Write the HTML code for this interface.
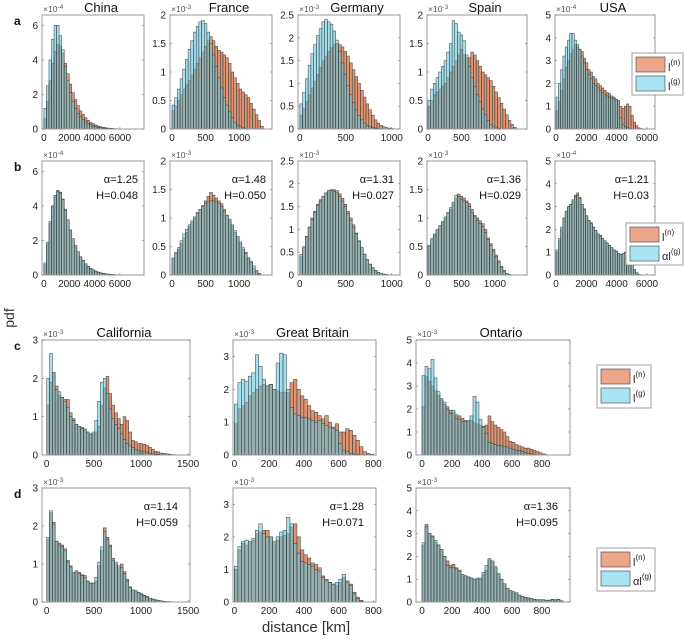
<!DOCTYPE html>
<html><head><meta charset="utf-8"><style>
body{margin:0;background:#fff;width:685px;height:637px;overflow:hidden;font-family:"Liberation Sans",sans-serif}
svg text{font-family:"Liberation Sans",sans-serif}
</style></head><body>
<svg id="fig" width="685" height="637" xmlns="http://www.w3.org/2000/svg"></svg>
<script>
// ---- data (pdf values in units of the axis exponent) ----
const chinaA_n=[0.6,1.6,2.8,3.8,4.5,4.9,4.8,4.4,3.8,3.2,2.6,2.1,1.7,1.35,1.05,0.85,0.65,0.5,0.38,0.3,0.23,0.17,0.13,0.1,0.07,0.05,0.04,0.03,0.02,0.015,0.01,0.005,0,0,0];
const chinaA_g=[1.2,2.5,4.0,5.2,6.0,6.0,5.4,4.6,3.6,2.8,2.1,1.6,1.2,0.9,0.7,0.55,0.42,0.32,0.24,0.18,0.13,0.1,0.07,0.05,0.04,0.03,0.02,0.015,0.01,0.01,0.005,0.005,0,0,0];
const chinaB_n=[0.6,1.8,3.0,4.0,4.6,4.9,4.8,4.4,3.8,3.2,2.6,2.1,1.7,1.35,1.05,0.85,0.65,0.5,0.38,0.3,0.23,0.17,0.13,0.1,0.07,0.05,0.04,0.03,0.02,0.015,0.01,0.005,0,0,0];
const chinaB_g=[0.7,1.9,3.1,4.0,4.6,4.85,4.75,4.35,3.75,3.2,2.6,2.1,1.7,1.35,1.05,0.85,0.65,0.5,0.38,0.3,0.22,0.16,0.12,0.09,0.06,0.05,0.03,0.02,0.015,0.01,0.005,0,0,0,0];
const franceA_n=[0.32,0.4,0.5,0.6,0.7,0.78,0.85,0.95,1.05,1.15,1.25,1.35,1.45,1.55,1.62,1.55,1.45,1.38,1.35,1.3,1.25,1.15,1.0,0.9,0.8,0.7,0.65,0.6,0.55,0.45,0.35,0.25,0.15,0.05,0];
const franceA_g=[0.42,0.55,0.7,0.88,1.05,1.22,1.4,1.55,1.7,1.8,1.88,1.9,1.85,1.7,1.5,1.3,1.1,0.9,0.72,0.55,0.42,0.3,0.2,0.12,0.07,0.04,0.02,0.01,0,0,0,0,0,0,0];
const franceB_n=[0.28,0.38,0.45,0.55,0.65,0.75,0.85,0.92,1.0,1.08,1.15,1.22,1.3,1.38,1.45,1.4,1.35,1.3,1.25,1.15,1.05,0.95,0.85,0.75,0.65,0.55,0.45,0.4,0.3,0.22,0.12,0.06,0.02,0,0];
const franceB_g=[0.3,0.4,0.48,0.6,0.72,0.8,0.88,0.95,1.02,1.1,1.15,1.2,1.25,1.28,1.3,1.3,1.28,1.25,1.2,1.12,1.05,0.98,0.88,0.78,0.68,0.58,0.48,0.38,0.3,0.24,0.16,0.08,0.03,0,0];
const germanyA_n=[0.3,0.45,0.6,0.75,0.9,1.05,1.2,1.35,1.5,1.6,1.7,1.78,1.85,1.88,1.85,1.8,1.7,1.6,1.45,1.3,1.15,1.0,0.85,0.7,0.55,0.42,0.3,0.2,0.13,0.08,0.05,0.03,0.02,0.01,0];
const germanyA_g=[0.55,0.8,1.1,1.4,1.65,1.85,2.05,2.2,2.35,2.4,2.35,2.3,2.15,1.95,1.7,1.45,1.2,0.95,0.75,0.58,0.42,0.3,0.2,0.13,0.08,0.05,0.03,0.02,0.01,0,0,0,0,0,0];
const germanyB_n=[0.4,0.6,0.85,1.05,1.25,1.4,1.55,1.65,1.72,1.8,1.85,1.87,1.87,1.85,1.78,1.68,1.55,1.4,1.25,1.1,0.92,0.75,0.6,0.45,0.33,0.23,0.15,0.1,0.06,0.03,0.02,0.01,0,0,0];
const germanyB_g=[0.45,0.62,0.85,1.05,1.22,1.38,1.52,1.62,1.72,1.8,1.85,1.85,1.84,1.8,1.72,1.62,1.5,1.35,1.2,1.05,0.9,0.74,0.6,0.46,0.34,0.24,0.16,0.1,0.06,0.03,0.02,0.01,0,0,0];
const spainA_n=[0.4,0.5,0.6,0.65,0.7,0.75,0.8,0.9,1.0,1.1,1.2,1.3,1.4,1.3,1.25,1.25,1.35,1.3,1.2,1.1,1.0,0.95,0.9,0.85,0.75,0.65,0.55,0.45,0.35,0.25,0.15,0.08,0.03,0,0];
const spainA_g=[0.5,0.7,0.8,0.9,1.0,1.1,1.2,1.35,1.5,1.9,1.85,1.7,1.65,1.55,1.3,1.1,0.9,0.75,0.6,0.48,0.35,0.25,0.15,0.08,0.04,0.02,0.01,0,0,0,0,0,0,0,0];
const spainB_n=[0.5,0.62,0.7,0.78,0.85,0.92,1.0,1.08,1.15,1.25,1.35,1.42,1.38,1.35,1.3,1.25,1.15,1.05,1.0,0.95,0.9,0.8,0.65,0.55,0.45,0.35,0.25,0.15,0.08,0.03,0.01,0,0,0,0];
const spainB_g=[0.52,0.64,0.72,0.8,0.87,0.94,1.02,1.1,1.18,1.28,1.4,1.38,1.32,1.3,1.27,1.2,1.1,1.02,0.96,0.9,0.85,0.75,0.62,0.52,0.42,0.32,0.22,0.14,0.07,0.03,0.01,0,0,0,0];
const usaA_n=[0.8,1.2,1.7,2.2,2.7,3.0,3.3,3.5,3.7,3.6,3.5,3.4,3.1,2.9,2.6,2.5,2.3,2.2,2.0,1.9,1.8,1.7,1.6,1.55,1.45,1.4,1.3,1.2,1.0,0.9,1.0,1.1,1.0,0.6,0.3,0.15,0.05,0.02,0,0];
const usaA_g=[1.4,2.0,2.6,3.2,3.6,3.9,4.2,4.2,3.9,3.7,3.5,3.2,2.9,2.6,2.4,2.2,2.0,1.9,1.8,1.7,1.6,1.5,1.45,1.4,1.35,1.35,1.3,1.25,0.5,0.2,0.1,0.05,0.02,0,0,0,0,0,0,0];
const usaB_n=[1.0,1.5,2.0,2.5,2.8,3.0,3.1,3.3,3.5,3.6,3.4,3.1,2.9,2.6,2.4,2.3,2.1,1.95,1.8,1.75,1.6,1.5,1.4,1.3,1.2,1.1,1.05,0.95,0.9,0.9,1.0,1.05,0.85,0.5,0.2,0.08,0.03,0,0,0];
const usaB_g=[1.1,1.6,2.1,2.5,2.8,3.0,3.1,3.3,3.45,3.5,3.35,3.1,2.85,2.6,2.4,2.25,2.1,1.95,1.8,1.7,1.6,1.5,1.4,1.3,1.2,1.1,1.05,0.95,0.9,0.95,1.0,1.05,0.9,0.55,0.25,0.1,0.03,0,0,0];
const caliC_n=[1.3,1.9,2.15,1.8,1.55,1.5,1.45,1.45,1.1,0.95,0.8,0.75,0.72,0.68,0.6,0.55,0.55,0.6,0.75,1.3,1.75,2.05,1.6,1.3,1.1,0.95,0.8,1.0,0.9,0.6,0.38,0.35,0.3,0.3,0.28,0.25,0.2,0.15,0.1,0.08,0.05,0.04,0.03,0.02,0.01,0.01,0.005,0,0,0];
const caliC_g=[2.0,2.65,2.15,1.7,1.65,1.5,1.4,1.25,1.0,0.9,0.8,0.75,0.7,0.65,0.6,0.55,0.6,0.9,1.4,1.9,2.0,1.6,1.2,0.95,0.8,0.7,0.55,0.4,0.3,0.25,0.2,0.15,0.12,0.1,0.08,0.06,0.04,0.03,0.02,0.02,0.01,0.01,0,0,0,0,0,0,0,0];
const caliD_n=[1.65,2.35,2.1,1.6,1.55,1.5,1.4,1.1,0.95,0.75,0.8,0.78,0.72,0.7,0.55,0.5,0.48,0.55,0.95,1.35,1.95,1.7,1.5,1.15,1.0,0.9,1.0,0.8,0.6,0.4,0.3,0.28,0.25,0.22,0.18,0.15,0.1,0.08,0.06,0.04,0.03,0.02,0.01,0.01,0,0,0,0,0,0];
const caliD_g=[1.7,2.4,2.05,1.6,1.5,1.45,1.35,1.05,0.92,0.78,0.82,0.75,0.7,0.65,0.55,0.5,0.5,0.65,1.05,1.45,1.85,1.65,1.45,1.1,1.05,0.95,0.9,0.75,0.55,0.38,0.32,0.3,0.25,0.2,0.16,0.12,0.1,0.07,0.05,0.04,0.03,0.02,0.01,0.01,0,0,0,0,0,0];
const gbC_n=[0.95,1.4,1.5,1.6,1.8,1.9,2.0,2.1,2.15,2.1,2.15,2.0,1.95,1.9,1.9,1.9,2.2,2.3,2.0,1.8,1.7,1.5,1.35,1.3,1.2,1.1,1.2,1.0,0.85,0.95,0.7,0.7,0.8,0.75,0.6,0.45,0.25,0.1,0.05,0.02,0,0,0];
const gbC_g=[1.55,2.2,2.3,2.25,2.4,2.5,3.05,2.7,2.3,2.1,2.15,2.0,2.8,3.1,3.05,2.0,1.45,1.25,1.2,1.15,1.15,1.1,1.05,1.0,1.05,0.95,0.9,0.85,0.8,0.75,0.35,0.15,0.1,0.05,0.03,0.02,0.01,0,0,0,0,0,0];
const gbD_n=[1.0,1.6,1.8,1.75,1.85,1.9,2.1,2.15,2.2,2.2,2.0,1.85,1.9,2.0,2.05,2.1,2.3,2.4,2.0,1.6,1.45,1.35,1.2,1.15,1.05,0.8,0.7,0.6,0.55,0.5,0.6,0.75,0.65,0.55,0.3,0.15,0.05,0,0,0,0,0,0];
const gbD_g=[1.1,1.7,1.85,1.9,1.85,1.95,2.2,2.4,2.1,2.0,2.0,1.85,2.0,2.15,2.2,2.6,2.4,1.8,1.5,1.25,1.2,1.15,1.1,1.0,0.95,0.75,0.65,0.6,0.55,0.6,0.7,0.85,0.6,0.5,0.25,0.1,0.03,0,0,0,0,0,0];
const ontC_n=[2.1,3.4,3.2,3.0,2.8,2.6,2.4,2.2,2.1,1.95,1.85,1.75,1.7,1.6,1.5,1.45,1.5,1.4,1.35,1.3,1.25,1.3,1.7,1.45,1.3,1.2,1.1,1.0,0.8,0.6,0.55,0.45,0.4,0.35,0.3,0.3,0.25,0.2,0.15,0.1,0.05,0.02,0.01,0,0,0,0,0];
const ontC_g=[3.45,3.85,3.75,4.15,3.35,2.75,2.45,2.3,2.0,1.8,1.95,1.6,1.55,1.45,1.45,1.5,1.7,2.55,2.3,1.55,1.2,0.95,0.55,0.5,0.45,0.4,0.4,0.35,0.35,0.3,0.25,0.2,0.2,0.15,0.1,0.08,0.05,0.02,0.01,0,0,0,0,0,0,0,0,0];
const ontD_n=[2.5,3.4,3.0,2.9,2.6,2.5,2.3,2.0,1.8,1.6,1.65,1.5,1.4,1.2,1.15,1.1,1.05,1.0,1.0,1.0,1.2,1.4,1.85,1.75,1.5,1.2,1.0,0.8,0.6,0.5,0.45,0.4,0.3,0.25,0.2,0.18,0.15,0.12,0.1,0.1,0.1,0.08,0.08,0.1,0.08,0.1,0.05,0];
const ontD_g=[2.6,3.3,3.0,2.85,2.7,2.5,2.3,2.0,1.6,1.5,1.5,1.45,1.35,1.2,1.15,1.1,1.05,1.0,1.05,1.05,1.3,1.6,1.9,1.8,1.55,1.25,1.0,0.8,0.6,0.5,0.45,0.4,0.3,0.25,0.2,0.18,0.15,0.12,0.1,0.1,0.1,0.08,0.08,0.12,0.1,0.12,0.05,0];
const countryTitles=["China","France","Germany","Spain","USA","California","Great Britain","Ontario"];
const alphaB=["1.25","1.48","1.31","1.36","1.21"];
const hB=["0.048","0.050","0.027","0.029","0.03"];
const alphaD=["1.14","1.28","1.36"];
const hD=["0.059","0.071","0.095"];

// ---- layout ----
const svg=document.getElementById('fig');
const NS='http://www.w3.org/2000/svg';
function mk(tag,attrs,parent){const e=document.createElementNS(NS,tag);for(const k in attrs)e.setAttribute(k,attrs[k]);(parent||svg).appendChild(e);return e;}
function txt(s,x,y,size,anchor,parent,extra){const t=mk('text',Object.assign({x:x,y:y,'font-size':size,'text-anchor':anchor||'middle',fill:'#222'},extra||{}),parent);t.textContent=s;return t;}

const panels=[
 {n:chinaA_n,g:chinaA_g,bw:200,x0:42,x1:144,y0:15,y1:129,xmin:-150,xmax:7900,ymax:6.6,yt:[0,2,4,6],xt:[0,2000,4000,6000],exp:'-4',title:0,name:'china-a'},
 {n:franceA_n,g:franceA_g,bw:40,x0:170,x1:272,y0:15,y1:129,xmin:-30,xmax:1490,ymax:2,yt:[0,0.5,1,1.5,2],xt:[0,500,1000],exp:'-3',title:1,name:'france-a'},
 {n:germanyA_n,g:germanyA_g,bw:30,x0:298,x1:400,y0:15,y1:129,xmin:-20,xmax:1090,ymax:2.5,yt:[0,0.5,1,1.5,2,2.5],xt:[0,500,1000],exp:'-3',title:2,name:'germany-a'},
 {n:spainA_n,g:spainA_g,bw:40,x0:427,x1:527,y0:15,y1:129,xmin:-15,xmax:1480,ymax:2,yt:[0,0.5,1,1.5,2],xt:[0,500,1000],exp:'-3',title:3,name:'spain-a'},
 {n:usaA_n,g:usaA_g,bw:150,x0:555,x1:655,y0:15,y1:129,xmin:-70,xmax:6530,ymax:5,yt:[0,1,2,3,4,5],xt:[0,2000,4000,6000],exp:'-4',title:4,name:'usa-a'},
 {n:chinaB_n,g:chinaB_g,bw:200,x0:42,x1:144,y0:161,y1:275,xmin:-150,xmax:7900,ymax:6.6,yt:[0,2,4,6],xt:[0,2000,4000,6000],exp:'-4',ann:0,name:'china-b'},
 {n:franceB_n,g:franceB_g,bw:40,x0:170,x1:272,y0:161,y1:275,xmin:-30,xmax:1490,ymax:2,yt:[0,0.5,1,1.5,2],xt:[0,500,1000],exp:'-3',ann:1,name:'france-b'},
 {n:germanyB_n,g:germanyB_g,bw:30,x0:298,x1:400,y0:161,y1:275,xmin:-20,xmax:1090,ymax:2.5,yt:[0,0.5,1,1.5,2,2.5],xt:[0,500,1000],exp:'-3',ann:2,name:'germany-b'},
 {n:spainB_n,g:spainB_g,bw:40,x0:427,x1:527,y0:161,y1:275,xmin:-15,xmax:1480,ymax:2,yt:[0,0.5,1,1.5,2],xt:[0,500,1000],exp:'-3',ann:3,name:'spain-b'},
 {n:usaB_n,g:usaB_g,bw:150,x0:555,x1:655,y0:161,y1:275,xmin:-70,xmax:6530,ymax:5,yt:[0,1,2,3,4,5],xt:[0,2000,4000,6000],exp:'-4',ann:4,name:'usa-b'},
 {n:caliC_n,g:caliC_g,bw:30,x0:42,x1:190,y0:340,y1:455,xmin:-50,xmax:1520,ymax:3,yt:[0,1,2,3],xt:[0,500,1000,1500],exp:'-3',title:5,name:'california-c'},
 {n:gbC_n,g:gbC_g,bw:20,x0:233,x1:376,y0:340,y1:455,xmin:-8,xmax:815,ymax:3.5,yt:[0,1,2,3],xt:[0,200,400,600,800],exp:'-3',title:6,name:'great-britain-c'},
 {n:ontC_n,g:ontC_g,bw:20,x0:416,x1:570,y0:340,y1:455,xmin:-40,xmax:987,ymax:5,yt:[0,1,2,3,4,5],xt:[0,200,400,600,800],exp:'-3',title:7,name:'ontario-c'},
 {n:caliD_n,g:caliD_g,bw:30,x0:42,x1:190,y0:488,y1:602,xmin:-50,xmax:1520,ymax:3,yt:[0,1,2,3],xt:[0,500,1000,1500],exp:'-3',annD:0,name:'california-d'},
 {n:gbD_n,g:gbD_g,bw:20,x0:233,x1:376,y0:488,y1:602,xmin:-8,xmax:815,ymax:3.5,yt:[0,1,2,3],xt:[0,200,400,600,800],exp:'-3',annD:1,name:'great-britain-d'},
 {n:ontD_n,g:ontD_g,bw:20,x0:416,x1:570,y0:488,y1:602,xmin:-40,xmax:987,ymax:5,yt:[0,1,2,3,4,5],xt:[0,200,400,600,800],exp:'-3',annD:2,name:'ontario-d'}
];

panels.forEach(p=>{
  const g=mk('g',{});
  
  
  const sx=v=>p.x0+(v-p.xmin)/(p.xmax-p.xmin)*(p.x1-p.x0);
  const sy=v=>p.y1-Math.min(v,p.ymax)/p.ymax*(p.y1-p.y0);
  mk('rect',{x:p.x0,y:p.y0,width:p.x1-p.x0,height:p.y1-p.y0,fill:'#fff'},g);
  const drawSeries=(arr,fill,op,nm)=>{
    arr.forEach((v,i)=>{
      if(v<=0)return;
      const r=mk('rect',{x:sx(i*p.bw),y:sy(v),width:sx((i+1)*p.bw)-sx(i*p.bw),height:sy(0)-sy(v),fill:fill,'fill-opacity':op,stroke:'#2e3b3d','stroke-width':0.5},g);
      
      
    });
  };
  drawSeries(p.n,'#dc8762',0.9,'ln');
  drawSeries(p.g,'#5fc6df',0.55,'lg');
  mk('rect',{x:p.x0,y:p.y0,width:p.x1-p.x0,height:p.y1-p.y0,fill:'none',stroke:'#9a9a9a','stroke-width':1},g);
  p.yt.forEach(t=>{
    const y=sy(t);
    mk('line',{x1:p.x0,x2:p.x0+2,y1:y,y2:y,stroke:'#777','stroke-width':0.6},g);
    mk('line',{x1:p.x1,x2:p.x1-2,y1:y,y2:y,stroke:'#777','stroke-width':0.6},g);
    const l=txt(String(t),p.x0-4,y+3.5,10,'end',g);
    
    
  });
  p.xt.forEach(t=>{
    const x=sx(t);
    mk('line',{x1:x,x2:x,y1:p.y1,y2:p.y1-2,stroke:'#777','stroke-width':0.6},g);
    const l=txt(String(t),x,p.y1+12,10,'middle',g);
    
    
  });
  const e=txt('\u00d710',p.x0+1,p.y0-3,8.5,'start',g,{fill:'#555'});
  
  
  const ts=mk('tspan',{dy:-3,'font-size':6.5},e);ts.textContent=p.exp;
  if(p.title!==undefined){
    const t=txt(countryTitles[p.title],(p.x0+p.x1)/2+8,p.y0-3,13,'middle',g,{fill:'#111'});
    
    
  }
  if(p.ann!==undefined||p.annD!==undefined){
    const a=p.ann!==undefined?alphaB[p.ann]:alphaD[p.annD];
    const h=p.ann!==undefined?hB[p.ann]:hD[p.annD];
    const ax=p.x1-p.x0>120?p.x1-12:p.x1-6;
    const t1=txt('\u03b1='+a,ax,p.y0+22,11,'end',g,{fill:'#111'});
    
    
    const t2=txt('H='+h,ax,p.y0+38,11,'end',g,{fill:'#111'});
    
    
  }
});

// legends
const legends=[{x:632,y:53,w:51,h:42,alpha:false},{x:626,y:223,w:57,h:42,alpha:true},{x:597,y:365,w:54,h:43,alpha:false},{x:597,y:548,w:58,h:43,alpha:true}];
legends.forEach((L,i)=>{
  const g=mk('g',{});
  
  
  mk('rect',{x:L.x,y:L.y,width:L.w,height:L.h,fill:'#fff',stroke:'#888','stroke-width':0.8},g);
  mk('rect',{x:L.x+4,y:L.y+4,width:29,height:15,fill:'#eca68a',stroke:'#555','stroke-width':0.7},g);
  mk('rect',{x:L.x+4,y:L.y+23,width:29,height:15,fill:'#a8e4f1',stroke:'#555','stroke-width':0.7},g);
  const t1=txt('l',L.x+36,L.y+18,11,'start',g);
  const s1=mk('tspan',{dy:-6,'font-size':8},t1);s1.textContent='(n)';
  
  
  const t2=txt((L.alpha?'\u03b1':'')+'l',L.x+36,L.y+37,11,'start',g);
  const s2=mk('tspan',{dy:-6,'font-size':8},t2);s2.textContent='(g)';
  
  
});

// panel letters & axis labels
[['a',25],['b',171],['c',350],['d',498]].forEach(([s,y])=>{
  const t=txt(s,14,y,12,'start',svg,{'font-weight':'bold',fill:'#111'});
  
  
});
const yl=txt('pdf',0,0,14,'middle',svg,{transform:'translate(14,318) rotate(-90)',fill:'#333'});


const xl=txt('distance [km]',306,632,15,'middle',svg,{fill:'#333'});


</script>
</body></html>
